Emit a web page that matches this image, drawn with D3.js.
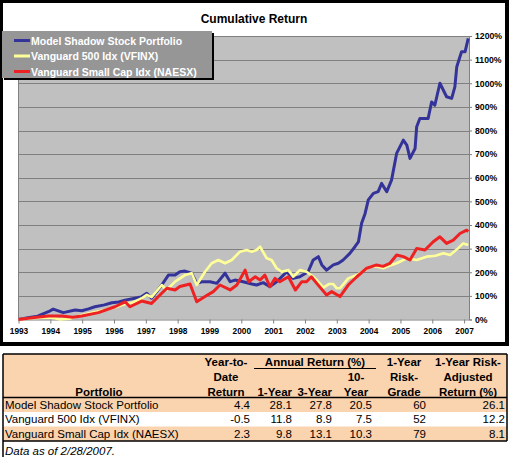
<!DOCTYPE html>
<html><head><meta charset="utf-8">
<script src="https://cdn.jsdelivr.net/npm/d3@7"></script>
<style>
html,body{margin:0;padding:0;background:#fff;}
svg{display:block;font-family:"Liberation Sans",Arial,sans-serif;}
</style></head>
<body>
<svg id="c" width="509" height="457"></svg>
<script>
// ---------- DATA ----------
const seriesNames = ["Model Shadow Stock Portfolio","Vanguard 500 Idx (VFINX)","Vanguard Small Cap Idx (NAESX)"];
const seriesColors = ["#333399","#FFFF99","#EE2222"];
const yearTicks = [1993,1994,1995,1996,1997,1998,1999,2000,2001,2002,2003,2004,2005,2006,2007];
const pctTicks = [0,100,200,300,400,500,600,700,800,900,1000,1100,1200];

const modelShadow = [[1993.0,0],[1993.3,8],[1993.6,14],[1993.94,33],[1994.09,44],[1994.41,29],[1994.78,40],[1994.99,37],[1995.2,45],[1995.4,54],[1995.7,62],[1995.93,71],[1996.15,74],[1996.35,82],[1996.66,90],[1996.85,95],[1997.03,111],[1997.18,90],[1997.5,146],[1997.71,188],[1997.92,188],[1998.07,202],[1998.23,205],[1998.44,196],[1998.6,153],[1998.76,160],[1999.02,160],[1999.23,153],[1999.49,196],[1999.65,160],[1999.8,167],[2000.06,160],[2000.33,150],[2000.48,146],[2000.69,156],[2000.9,139],[2001.11,160],[2001.43,202],[2001.63,174],[2001.84,181],[2002.1,202],[2002.26,252],[2002.42,266],[2002.53,231],[2002.68,209],[2002.89,231],[2003.05,238],[2003.2,252],[2003.41,280],[2003.57,308],[2003.68,329],[2003.78,407],[2003.89,449],[2003.99,506],[2004.15,534],[2004.3,541],[2004.41,576],[2004.57,541],[2004.72,590],[2004.88,703],[2005.09,759],[2005.2,738],[2005.3,682],[2005.46,724],[2005.51,816],[2005.61,851],[2005.87,851],[2005.98,921],[2006.08,907],[2006.24,1000],[2006.45,943],[2006.61,936],[2006.71,985],[2006.77,1070],[2006.92,1133],[2007.03,1133],[2007.13,1190]];

const vfinx = [[1993.0,0],[1993.4,5],[1993.94,9],[1994.15,5],[1994.3,0],[1994.6,3],[1994.99,19],[1995.3,28],[1995.72,40],[1996.0,50],[1996.35,66],[1996.6,72],[1996.87,90],[1997.03,104],[1997.18,95],[1997.5,146],[1997.66,125],[1997.92,160],[1998.23,188],[1998.44,196],[1998.6,146],[1998.86,202],[1999.07,238],[1999.28,252],[1999.49,238],[1999.7,252],[1999.96,287],[2000.17,294],[2000.33,287],[2000.48,294],[2000.59,308],[2000.8,259],[2000.95,252],[2001.11,217],[2001.27,202],[2001.48,209],[2001.63,181],[2001.84,209],[2002.05,202],[2002.26,181],[2002.37,167],[2002.58,135],[2002.75,150],[2002.89,150],[2003.0,132],[2003.1,132],[2003.36,174],[2003.63,188],[2004.04,223],[2004.25,225],[2004.46,217],[2004.7,230],[2004.88,238],[2005.2,259],[2005.51,252],[2005.82,266],[2006.1,270],[2006.35,280],[2006.56,273],[2006.8,300],[2006.97,322],[2007.13,315]];

const naesx = [[1993.0,0],[1993.5,8],[1993.94,15],[1994.36,15],[1994.7,10],[1994.99,15],[1995.51,29],[1996.03,54],[1996.35,75],[1996.5,54],[1996.87,78],[1997.18,68],[1997.5,111],[1997.66,132],[1997.92,125],[1998.07,140],[1998.39,150],[1998.6,75],[1998.86,97],[1999.12,118],[1999.33,146],[1999.65,125],[1999.86,146],[2000.12,209],[2000.23,160],[2000.44,181],[2000.59,167],[2000.74,188],[2000.9,139],[2001.06,174],[2001.21,160],[2001.48,181],[2001.7,125],[2001.9,160],[2002.05,160],[2002.2,181],[2002.37,153],[2002.68,104],[2002.84,118],[2003.1,97],[2003.36,146],[2003.63,181],[2003.94,217],[2004.25,231],[2004.45,225],[2004.67,238],[2004.88,273],[2005.09,266],[2005.3,252],[2005.51,301],[2005.77,294],[2006.03,329],[2006.24,350],[2006.45,322],[2006.66,336],[2006.87,364],[2007.08,378],[2007.13,372]];

// table
const tablePortfolios = ["Model Shadow Stock Portfolio","Vanguard 500 Idx (VFINX)","Vanguard Small Cap Idx (NAESX)"];
const ytdReturn = ["4.4","-0.5","2.3"];
const oneYear = ["28.1","11.8","9.8"];
const threeYear = ["27.8","8.9","13.1"];
const tenYear = ["20.5","7.5","10.3"];
const riskGrade = ["60","52","79"];
const riskAdjusted = ["26.1","12.2","8.1"];
const footnote = "Data as of 2/28/2007.";

// ---------- DRAW ----------
const svg = d3.select("#c");
const F = '"Liberation Sans",Arial,sans-serif';

// chart frame
svg.append("rect").attr("x",0).attr("y",0).attr("width",509).attr("height",346).attr("fill","#000");
svg.append("rect").attr("x",3).attr("y",3).attr("width",502).attr("height",339).attr("fill","#fff");

const x = d3.scaleLinear().domain([1993,2007]).range([18.5,464.1]);
const y = d3.scaleLinear().domain([0,1200]).range([319.5,36]);
const plotL = 18, plotR = 469, plotT = 36, plotB = 319.5;

svg.append("rect").attr("x",plotL).attr("y",plotT).attr("width",plotR-plotL).attr("height",plotB-plotT).attr("fill","#C0C0C0");

// gridlines
svg.append("g").selectAll("line").data(pctTicks.filter(d=>d>0)).join("line")
  .attr("x1",plotL).attr("x2",plotR).attr("y1",d=>Math.round(y(d))+0.5).attr("y2",d=>Math.round(y(d))+0.5)
  .attr("stroke","#808080").attr("stroke-width",1);

// left border
svg.append("line").attr("x1",plotL+0.5).attr("x2",plotL+0.5).attr("y1",plotT).attr("y2",plotB).attr("stroke","#808080");

// right axis
const yAxis = d3.axisRight(y).tickValues(pctTicks).tickSize(3).tickFormat(d=>d+"%");
const gy = svg.append("g").attr("transform",`translate(${plotR},0)`).call(yAxis);
gy.select(".domain").attr("stroke","#808080");
gy.selectAll(".tick line").attr("stroke","#808080");
gy.selectAll(".tick text").attr("x",6).attr("font-family",F).attr("font-size",8.7).attr("font-weight","bold").attr("fill","#000");

// bottom axis
const xAxis = d3.axisBottom(x).tickValues(yearTicks).tickSize(4).tickFormat(d3.format("d"));
const gx = svg.append("g").attr("transform",`translate(0,${plotB})`).call(xAxis);
gx.select(".domain").attr("d",`M${plotL},0.5H${plotR}`).attr("stroke","#808080");
gx.selectAll(".tick line").attr("stroke","#808080");
gx.selectAll(".tick text").attr("y",9).attr("font-family",F).attr("font-size",8.3).attr("font-weight","bold").attr("fill","#000");

// lines
const line = d3.line().x(d=>x(d[0])).y(d=>y(d[1]));
const allSeries = [modelShadow, vfinx, naesx];
const widths = [3,2.6,3];
allSeries.forEach((s,i)=>{
  svg.append("path").datum(s).attr("d",line).attr("fill","none")
    .attr("stroke",seriesColors[i]).attr("stroke-width",widths[i]).attr("stroke-linejoin","round");
});

// title
svg.append("text").attr("x",254).attr("y",23).attr("text-anchor","middle")
  .attr("font-family",F).attr("font-size",12).attr("font-weight","bold").text("Cumulative Return");

// legend
svg.append("rect").attr("x",4).attr("y",33).attr("width",210).attr("height",47).attr("fill","#000");
svg.append("rect").attr("x",2).attr("y",31).attr("width",210).attr("height",47).attr("fill","#969696");
const lg = svg.append("g").selectAll("g").data(seriesNames).join("g")
  .attr("transform",(d,i)=>`translate(0,${40.5+i*15.5})`);
lg.append("line").attr("x1",14).attr("x2",30).attr("y1",0).attr("y2",0)
  .attr("stroke",(d,i)=>seriesColors[i]).attr("stroke-width",3);
lg.append("text").attr("x",31).attr("y",4).attr("font-family",F).attr("font-size",10.5)
  .attr("font-weight","bold").attr("fill","#fff").text(d=>d);

// ---------- TABLE ----------
const tT = 354, tL = 3, tR = 507, hB = 397.5, rowH = 14.5;
svg.append("rect").attr("x",tL).attr("y",tT).attr("width",tR-tL).attr("height",hB-tT+rowH).attr("fill","#FAD3AF");
svg.append("rect").attr("x",tL).attr("y",hB+2*rowH).attr("width",tR-tL).attr("height",rowH).attr("fill","#FAD3AF");
const bl = (x1,y1,x2,y2,w)=>svg.append("line").attr("x1",x1).attr("y1",y1).attr("x2",x2).attr("y2",y2).attr("stroke","#000").attr("stroke-width",w||1.3);
bl(tL,tT,tR,tT,1.5);
bl(tL,tT,tL,457,1.5);
bl(tR,tT,tR,hB+3*rowH,1.5);
bl(tL,hB,tR,hB,1.3);
bl(tL,hB+3*rowH,tR,hB+3*rowH,1.5);

const hdr = (txt,xx,yy,anchor)=>svg.append("text").attr("x",xx).attr("y",yy).attr("text-anchor",anchor||"middle")
  .attr("font-family",F).attr("font-size",11.5).attr("font-weight","bold").text(txt);
hdr("Portfolio",99,395.5);
hdr("Year-to-",226,366); hdr("Date",226,381); hdr("Return",226,395.5);
hdr("Annual Return (%)",315,366);
bl(254,368.5,376,368.5,1.2);
hdr("1-Year",292,395.5,"end"); hdr("3-Year",332,395.5,"end");
hdr("10-",356,381); hdr("Year",356,395.5);
hdr("1-Year",404,366); hdr("Risk-",404,381); hdr("Grade",404,395.5);
hdr("1-Year Risk-",468,366); hdr("Adjusted",468,381); hdr("Return (%)",468,395.5);

const cols = [ytdReturn, oneYear, threeYear, tenYear, riskGrade, riskAdjusted];
const colRight = [250,292,332,372,426,505];
tablePortfolios.forEach((p,i)=>{
  const by = hB + rowH*i + 11;
  svg.append("text").attr("x",5).attr("y",by).attr("font-family",F).attr("font-size",11.5).text(p);
  cols.forEach((c,j)=>{
    svg.append("text").attr("x",colRight[j]).attr("y",by).attr("text-anchor","end")
      .attr("font-family",F).attr("font-size",11.5).text(c[i]);
  });
});
svg.append("text").attr("x",5).attr("y",455).attr("font-family",F).attr("font-size",11.5)
  .attr("font-style","italic").text(footnote);
</script>
</body></html>
